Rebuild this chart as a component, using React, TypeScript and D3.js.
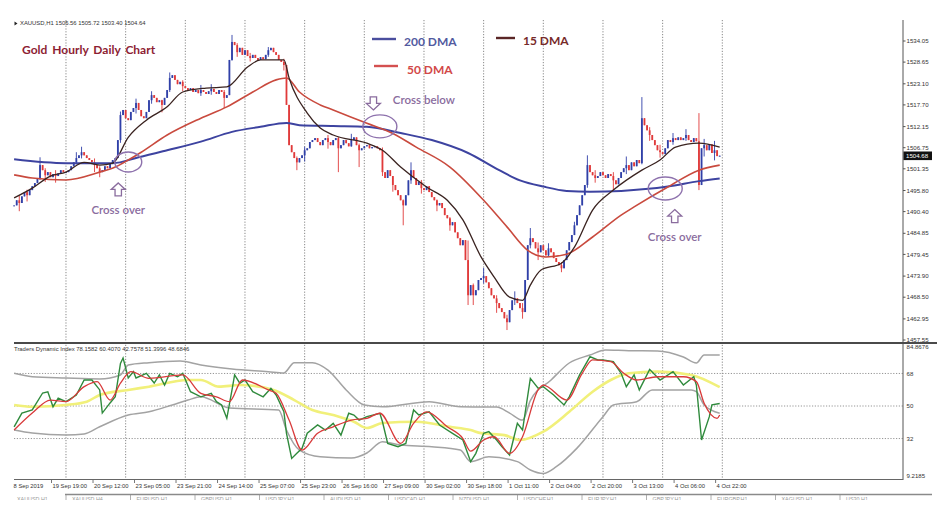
import * as d3 from "d3";
import { useEffect, useRef } from "react";

// XAUUSD H1 closes, bar 0 = first visible bar (19 Sep) .. bar 272 = 4 Oct 22:00
const closes = [
  1492.0, 1493.3, 1492.6, 1494.3, 1495.4, 1494.6, 1495.9, 1496.9, 1497.7, 1499.0,
  1502.3, 1501.0, 1499.7, 1500.5, 1499.2, 1500.0, 1499.5, 1500.2, 1501.0, 1500.5,
  1500.5, 1501.0, 1502.0, 1503.0, 1504.1, 1504.8, 1505.6, 1504.8, 1504.1, 1503.6,
  1503.0, 1502.3, 1501.5, 1500.5, 1501.0, 1502.0, 1501.5, 1502.8, 1503.6, 1504.1,
  1508.7, 1515.1, 1516.4, 1514.3, 1513.8, 1515.9, 1516.9, 1518.2, 1516.4, 1514.8,
  1514.3, 1515.9, 1518.9, 1520.2, 1519.5, 1518.4, 1518.9, 1517.7, 1519.5, 1521.5,
  1524.6, 1525.3, 1524.1, 1523.0, 1523.6, 1522.5, 1522.0, 1521.5, 1522.0, 1521.0,
  1521.5, 1520.7, 1521.5, 1521.0, 1520.5, 1521.2, 1521.8, 1521.0, 1520.5, 1521.5,
  1521.0, 1519.5, 1520.2, 1529.2, 1533.8, 1533.0, 1531.2, 1532.3, 1530.5, 1531.7,
  1530.2, 1529.7, 1530.5, 1529.7, 1529.2, 1529.9, 1529.4, 1530.5, 1531.7, 1532.3,
  1531.2, 1530.5, 1529.2, 1528.7, 1527.9, 1517.7, 1507.4, 1505.6, 1504.1, 1503.0,
  1504.1, 1504.8, 1506.1, 1506.6, 1508.2, 1508.7, 1509.2, 1508.2, 1507.4, 1508.7,
  1509.2, 1508.2, 1507.4, 1508.7, 1509.2, 1506.6, 1507.4, 1508.7, 1507.9, 1507.1,
  1508.7, 1509.4, 1507.4, 1506.1, 1506.6, 1507.1, 1507.4, 1506.6, 1506.9, 1507.1,
  1506.6, 1506.1, 1500.5, 1499.0, 1501.0, 1499.5, 1497.2, 1495.9, 1494.6, 1493.3,
  1492.0, 1494.6, 1498.4, 1501.0, 1499.0, 1497.2, 1498.0, 1496.4, 1495.9, 1496.9,
  1495.4, 1494.1, 1493.3, 1492.0, 1492.6, 1491.3, 1489.5, 1488.7, 1486.9, 1487.7,
  1485.1, 1483.6, 1481.8, 1483.1, 1478.0, 1469.0, 1471.6, 1469.0, 1470.3, 1472.9,
  1473.4, 1473.9, 1472.3, 1470.8, 1469.0, 1468.2, 1467.0, 1465.7, 1464.7, 1463.1,
  1462.1, 1465.2, 1467.7, 1468.2, 1467.0, 1465.7, 1464.7, 1472.9, 1481.8, 1483.6,
  1482.6, 1481.0, 1480.0, 1481.8, 1480.5, 1479.2, 1481.0, 1480.0, 1478.5, 1477.5,
  1476.7, 1475.9, 1478.0, 1480.5, 1482.6, 1484.4, 1486.9, 1489.5, 1492.0, 1494.6,
  1497.2, 1502.3, 1500.5, 1499.7, 1499.0, 1499.5, 1500.5, 1499.7, 1499.0, 1500.0,
  1499.5, 1498.4, 1497.4, 1499.0, 1500.5, 1501.5, 1502.3, 1501.0, 1503.0, 1502.0,
  1503.6, 1502.8, 1514.3, 1512.5, 1511.2, 1510.0, 1508.7, 1507.4, 1506.1, 1505.6,
  1505.1, 1506.6, 1508.7, 1508.2, 1509.2, 1508.7, 1509.4, 1508.7, 1509.2, 1510.0,
  1508.7, 1508.2, 1509.2, 1508.4, 1497.2, 1506.6, 1507.4, 1506.1, 1507.6, 1505.4,
  1506.1, 1504.6, 1504.7,
];

// [bar, high, low] for bars whose shadows stick out of the body
const wicks = [
  [2, 1494.5, 1490.5], [5, 1496.0, 1493.0], [10, 1504.3, 1498.5], [12, 1501.5, 1498.0],
  [16, 1501.0, 1497.8], [24, 1505.6, 1502.5], [26, 1507.0, 1504.0], [31, 1504.0, 1500.5],
  [33, 1502.0, 1499.2], [41, 1516.0, 1508.0], [47, 1519.3, 1515.5], [53, 1521.2, 1518.0],
  [57, 1519.0, 1515.8], [60, 1526.0, 1521.0], [65, 1524.0, 1521.2], [72, 1522.8, 1520.0],
  [76, 1523.0, 1520.3], [81, 1521.5, 1516.9], [84, 1535.6, 1529.0], [86, 1533.5, 1530.0],
  [91, 1531.0, 1528.8], [98, 1532.5, 1530.0], [104, 1529.5, 1526.5], [109, 1504.5, 1501.0],
  [112, 1507.0, 1503.2], [121, 1510.0, 1506.5], [125, 1509.5, 1500.5], [130, 1510.3, 1507.0],
  [133, 1507.8, 1501.8], [142, 1506.8, 1499.5], [146, 1499.0, 1495.5], [150, 1493.5, 1486.9],
  [153, 1503.0, 1497.5], [157, 1498.5, 1495.0], [163, 1493.5, 1490.5], [168, 1489.0, 1485.5],
  [175, 1483.0, 1466.5], [177, 1472.0, 1466.5], [181, 1476.0, 1472.0], [186, 1469.0, 1464.5],
  [190, 1464.0, 1460.1], [193, 1470.0, 1466.5], [196, 1467.0, 1463.0], [199, 1486.2, 1481.0],
  [202, 1482.5, 1478.0], [206, 1482.3, 1478.8], [211, 1477.5, 1474.9], [216, 1487.8, 1485.0],
  [221, 1504.8, 1496.5], [224, 1501.0, 1497.8], [231, 1500.5, 1495.8], [236, 1504.5, 1500.0],
  [242, 1519.7, 1502.5], [245, 1512.0, 1508.5], [249, 1507.5, 1504.2], [254, 1510.5, 1507.5],
  [259, 1511.5, 1508.5], [264, 1515.6, 1495.9], [266, 1509.0, 1504.5], [270, 1508.5, 1503.5],
];

// moving averages, [bar, price]
const ma15 = [
  [0, 1493.9], [7, 1496.4], [14, 1499.5], [20, 1500.5], [27, 1503.0], [33, 1502.3],
  [38, 1502.8], [44, 1509.4], [51, 1513.8], [59, 1517.2], [65, 1521.0], [74, 1522.0],
  [82, 1522.3], [90, 1527.4], [95, 1529.2], [104, 1529.2], [106, 1524.6], [113, 1515.6],
  [118, 1511.8], [123, 1510.0], [136, 1507.9], [142, 1506.1], [149, 1501.8], [159, 1496.7],
  [167, 1493.3], [173, 1488.3], [180, 1478.8], [185, 1473.7], [191, 1468.5], [196, 1467.7],
  [199, 1471.6], [203, 1475.4], [211, 1477.2], [216, 1481.3], [223, 1490.8], [231, 1495.9],
  [242, 1501.0], [249, 1503.6], [255, 1506.9], [264, 1507.9], [272, 1506.9],
];
const ma50 = [
  [0, 1499.8], [7, 1499.0], [20, 1498.5], [33, 1500.5], [39, 1501.8], [44, 1503.6],
  [49, 1505.6], [59, 1510.0], [72, 1514.3], [82, 1517.2], [92, 1521.0], [101, 1524.1],
  [105, 1524.6], [110, 1521.0], [118, 1517.7], [123, 1516.4], [136, 1513.0], [146, 1510.4],
  [155, 1506.9], [168, 1501.8], [181, 1493.3], [190, 1486.5], [198, 1480.5], [205, 1478.8],
  [213, 1479.5], [223, 1483.9], [234, 1489.5], [239, 1491.6], [252, 1496.7], [264, 1501.0],
  [272, 1502.3],
];
const ma200 = [
  [0, 1503.8], [20, 1502.8], [38, 1502.8], [48, 1504.3], [59, 1506.1], [72, 1508.3],
  [84, 1510.8], [95, 1512.1], [105, 1513.1], [110, 1512.5], [123, 1512.3], [136, 1512.1],
  [149, 1510.5], [161, 1508.7], [175, 1505.4], [187, 1501.0], [195, 1498.4], [204, 1496.8],
  [213, 1495.7], [222, 1495.5], [234, 1495.7], [252, 1496.8], [264, 1498.2], [272, 1498.9],
];

// Traders Dynamic Index, [bar, value]
const tdiRsi = [
  [0, 38.5], [3, 46.1], [7, 47.8], [11, 57.2], [13, 57.9], [15, 49.6], [17, 54.4], [20, 52.4],
  [24, 56.1], [27, 64.4], [30, 64.4], [33, 58.9], [34, 46.1], [37, 51.7], [39, 55.1], [41, 73.6],
  [42, 76.6], [44, 65.5], [46, 69.0], [47, 65.5], [51, 68.1], [54, 62.7], [56, 67.2], [58, 61.6],
  [60, 68.1], [63, 66.2], [65, 68.1], [68, 57.9], [72, 55.1], [76, 57.0], [78, 52.4], [80, 50.6],
  [82, 43.2], [84, 58.9], [85, 67.2], [87, 62.6], [89, 64.4], [92, 57.9], [96, 55.1], [99, 59.8],
  [101, 56.1], [104, 46.8], [105, 34.9], [107, 21.0], [109, 23.8], [111, 26.6], [113, 34.9],
  [117, 39.5], [120, 36.7], [123, 40.4], [126, 33.9], [129, 46.0], [131, 45.0], [133, 42.2],
  [136, 44.1], [141, 46.0], [142, 41.3], [144, 29.3], [148, 27.5], [151, 29.3], [154, 47.8],
  [156, 45.0], [160, 46.8], [164, 39.5], [169, 34.9], [173, 31.2], [176, 19.2], [178, 23.8],
  [181, 34.9], [183, 35.8], [186, 31.2], [188, 27.5], [191, 22.9], [194, 40.4], [196, 36.7],
  [199, 65.3], [202, 59.8], [204, 60.7], [208, 56.1], [212, 50.6], [214, 55.1], [218, 67.2],
  [222, 77.3], [225, 75.5], [227, 75.5], [231, 74.5], [234, 68.1], [236, 60.7], [239, 67.2],
  [241, 58.9], [245, 70.3], [249, 64.4], [254, 69.0], [258, 61.6], [262, 66.2], [263, 61.6],
  [265, 31.2], [268, 44.1], [269, 50.6], [272, 51.4],
];
const tdiSignal = [
  [0, 36.7], [7, 46.1], [14, 53.3], [20, 52.4], [27, 60.7], [32, 63.5], [37, 53.3], [41, 62.6],
  [45, 69.0], [52, 65.3], [65, 67.2], [72, 57.0], [78, 55.1], [83, 52.4], [88, 64.4], [98, 58.9],
  [101, 57.0], [106, 42.2], [111, 25.6], [117, 34.9], [123, 38.5], [130, 42.2], [136, 43.2],
  [141, 46.0], [149, 29.3], [154, 40.4], [159, 46.8], [167, 38.5], [173, 32.0], [176, 25.0],
  [181, 31.2], [185, 33.0], [191, 23.8], [196, 33.0], [202, 58.9], [204, 61.6], [213, 53.3],
  [219, 68.1], [223, 75.5], [230, 74.5], [235, 68.1], [240, 64.4], [248, 66.2], [258, 66.2],
  [263, 63.5], [266, 51.5], [271, 43.2], [272, 45.0],
];
const tdiBase = [
  [0, 50.6], [7, 49.6], [20, 50.6], [28, 52.4], [33, 56.1], [44, 58.9], [52, 60.7], [67, 64.4],
  [72, 64.4], [79, 60.7], [87, 61.6], [100, 58.9], [108, 53.3], [115, 47.8], [123, 45.0],
  [131, 41.3], [136, 37.8], [142, 40.6], [155, 41.3], [168, 38.5], [176, 36.7], [180, 35.0],
  [189, 33.9], [195, 31.2], [204, 35.8], [214, 46.8], [223, 57.9], [230, 64.4], [237, 68.1],
  [248, 69.0], [261, 67.2], [272, 60.4],
];
const tdiUpper = [
  [0, 68.1], [7, 66.2], [20, 65.5], [33, 65.0], [41, 67.2], [44, 72.7], [52, 74.0], [64, 74.9],
  [72, 72.7], [84, 70.5], [98, 69.0], [104, 68.3], [108, 74.0], [115, 74.0], [121, 69.9],
  [128, 58.9], [135, 50.6], [142, 49.6], [160, 52.4], [172, 49.6], [186, 49.4], [191, 46.1],
  [196, 42.2], [199, 53.0], [207, 64.4], [214, 73.8], [222, 78.2], [228, 81.0], [237, 80.6],
  [248, 80.5], [258, 77.1], [263, 73.8], [266, 78.2], [272, 78.2],
];
const tdiLower = [
  [0, 36.7], [7, 35.0], [20, 33.9], [27, 34.5], [33, 38.5], [44, 45.0], [52, 46.8], [61, 50.6],
  [67, 53.3], [72, 55.1], [83, 48.9], [102, 47.8], [105, 36.7], [110, 25.6], [118, 21.9],
  [130, 21.2], [136, 24.0], [142, 30.2], [149, 28.4], [161, 27.5], [172, 25.6], [176, 19.2],
  [183, 21.9], [194, 19.2], [199, 14.6], [204, 12.7], [209, 16.4], [217, 26.7], [227, 44.1],
  [231, 50.6], [240, 52.4], [246, 58.9], [261, 58.9], [263, 57.9], [266, 50.6], [272, 46.0],
];

const priceTicks = [
  1534.05, 1528.65, 1523.1, 1517.7, 1512.15, 1506.75, 1501.35, 1495.8,
  1490.4, 1484.85, 1479.45, 1473.9, 1468.5, 1462.95, 1457.55,
];
const lastPrice = 1504.68;
const tdiTicks = [68, 50, 32];
const tdiRange = [9.2185, 84.8676];
const daySeparators = [20, 43, 66, 89, 112, 135, 158, 181, 204, 227, 250, 273];
const timeLabelBars = [0, 15, 31, 47, 63, 79, 95, 111, 127, 143, 159, 175, 191, 207, 223, 239, 255, 271];
const timeLabels = [
  "8 Sep 2019", "19 Sep 19:00", "20 Sep 12:00", "23 Sep 05:00", "23 Sep 21:00", "24 Sep 14:00",
  "25 Sep 07:00", "25 Sep 23:00", "26 Sep 16:00", "27 Sep 09:00", "30 Sep 02:00", "30 Sep 18:00",
  "1 Oct 11:00", "2 Oct 04:00", "2 Oct 20:00", "3 Oct 13:00", "4 Oct 06:00", "4 Oct 22:00",
];
const tabNames = [
  "XAUUSD,H4", "EURUSD,H1", "GBPUSD,H1", "USDJPY,H1", "AUDUSD,H1", "USDCAD,H1", "NZDUSD,H1",
  "USDCHF,H1", "EURJPY,H1", "GBPJPY,H1", "EURGBP,H1", "XAGUSD,H1", "US30,H1",
];
// crossing points: [bar, price]
const crossBars = [44, 141, 251];
const crossPrices = [1503.1, 1512.2, 1496.3];
const crossLabels = ["Cross over", "Cross below", "Cross over"];

export default function App() {
  const ref = useRef<SVGSVGElement>(null);

  useEffect(() => {
    const svg = d3.select(ref.current);
    svg.selectAll("*").remove();

    const x = d3.scaleLinear().domain([0, 273]).range([14.1, 722.3]);
    const y = d3.scaleLinear().domain([1457.55, 1534.05]).range([340, 41]);
    const yT = d3.scaleLinear().domain(tdiRange).range([479.7, 343]);

    const axisFont = "'Liberation Sans', Arial, sans-serif";
    const blue = "#3040a8";
    const red = "#e03a3a";

    svg.append("rect").attr("width", 944).attr("height", 516).attr("fill", "#fff");

    // period separators
    svg.append("g")
      .selectAll("line")
      .data(daySeparators)
      .join("line")
      .attr("x1", d => x(d))
      .attr("x2", d => x(d))
      .attr("y1", 20)
      .attr("y2", 479)
      .attr("stroke", "#7a7a7a")
      .attr("stroke-width", 0.9)
      .attr("stroke-dasharray", "1.2,1.6");

    // TDI levels
    svg.append("g")
      .selectAll("line")
      .data(tdiTicks)
      .join("line")
      .attr("x1", 14)
      .attr("x2", 903)
      .attr("y1", d => yT(d))
      .attr("y2", d => yT(d))
      .attr("stroke", "#8a8a8a")
      .attr("stroke-width", 0.9)
      .attr("stroke-dasharray", "1.2,1.6");

    // frame
    svg.append("line").attr("x1", 903).attr("x2", 903).attr("y1", 20).attr("y2", 480)
      .attr("stroke", "#555").attr("stroke-width", 1);
    svg.append("line").attr("x1", 14).attr("x2", 937).attr("y1", 343).attr("y2", 343)
      .attr("stroke", "#4a4a4a").attr("stroke-width", 2);
    svg.append("line").attr("x1", 14).attr("x2", 903).attr("y1", 479.5).attr("y2", 479.5)
      .attr("stroke", "#666").attr("stroke-width", 1);

    // candles
    const wickMap = new Map(wicks.map(w => [w[0], w]));
    const bars = closes.map((c, i) => {
      const o = i > 0 ? closes[i - 1] : c;
      const w = wickMap.get(i);
      return {
        i, o, c,
        hi: Math.max(o, c, w ? w[1] : c),
        lo: Math.min(o, c, w ? w[2] : c),
        up: c >= o,
      };
    });

    svg.append("g")
      .selectAll("line")
      .data(bars)
      .join("line")
      .attr("x1", d => x(d.i))
      .attr("x2", d => x(d.i))
      .attr("y1", d => y(d.hi))
      .attr("y2", d => y(d.lo))
      .attr("stroke", d => (d.up ? blue : red))
      .attr("stroke-width", 0.9);

    svg.append("g")
      .selectAll("rect")
      .data(bars)
      .join("rect")
      .attr("x", d => x(d.i) - 0.9)
      .attr("width", 1.8)
      .attr("y", d => y(Math.max(d.o, d.c)))
      .attr("height", d => Math.max(1, Math.abs(y(d.o) - y(d.c))))
      .attr("fill", d => (d.up ? blue : red));

    // moving averages
    const maLine = d3.line<number[]>()
      .x(d => x(d[0]))
      .y(d => y(d[1]))
      .curve(d3.curveMonotoneX);

    svg.append("path").attr("d", maLine(ma200)).attr("fill", "none")
      .attr("stroke", "#3d43a0").attr("stroke-width", 2);
    svg.append("path").attr("d", maLine(ma50)).attr("fill", "none")
      .attr("stroke", "#c94a3e").attr("stroke-width", 1.6);
    svg.append("path").attr("d", maLine(ma15)).attr("fill", "none")
      .attr("stroke", "#3a2320").attr("stroke-width", 1.3);

    // TDI
    const tdiLine = (curve: d3.CurveFactory) =>
      d3.line<number[]>().x(d => x(d[0])).y(d => yT(d[1])).curve(curve);

    svg.append("path").attr("d", tdiLine(d3.curveMonotoneX)(tdiBase)).attr("fill", "none")
      .attr("stroke", "#f1f07a").attr("stroke-width", 2.6);
    [tdiUpper, tdiLower].forEach(band => {
      svg.append("path").attr("d", tdiLine(d3.curveMonotoneX)(band)).attr("fill", "none")
        .attr("stroke", "#a3a3a3").attr("stroke-width", 1.5);
    });
    svg.append("path").attr("d", tdiLine(d3.curveLinear)(tdiRsi)).attr("fill", "none")
      .attr("stroke", "#2f8a3c").attr("stroke-width", 1.4);
    svg.append("path").attr("d", tdiLine(d3.curveMonotoneX)(tdiSignal)).attr("fill", "none")
      .attr("stroke", "#d83a3a").attr("stroke-width", 1.3);

    // right price axis
    const pAxis = svg.append("g").attr("font-family", axisFont).attr("font-size", 6.1).attr("fill", "#333");
    pAxis.selectAll("line")
      .data(priceTicks)
      .join("line")
      .attr("x1", 903).attr("x2", 905.5)
      .attr("y1", d => y(d)).attr("y2", d => y(d))
      .attr("stroke", "#555");
    pAxis.selectAll("text")
      .data(priceTicks)
      .join("text")
      .attr("x", 906.5)
      .attr("y", d => y(d) + 2.2)
      .text(d => d.toFixed(2));

    svg.append("rect")
      .attr("x", 903.5).attr("y", y(lastPrice) - 4.3)
      .attr("width", 28.5).attr("height", 8.6)
      .attr("fill", "#111");
    svg.append("text")
      .attr("x", 906).attr("y", y(lastPrice) + 2.2)
      .attr("font-family", axisFont).attr("font-size", 6.1).attr("fill", "#fff")
      .text(lastPrice.toFixed(2));

    // TDI axis
    const tAxis = svg.append("g").attr("font-family", axisFont).attr("font-size", 6.1).attr("fill", "#333");
    tAxis.selectAll("text.lvl")
      .data(tdiTicks)
      .join("text")
      .attr("class", "lvl")
      .attr("x", 906.5)
      .attr("y", d => yT(d) + 2.2)
      .text(d => d);
    tAxis.append("text").attr("x", 906.5).attr("y", yT(tdiRange[1]) + 6.2).text(tdiRange[1].toFixed(4));
    tAxis.append("text").attr("x", 906.5).attr("y", yT(tdiRange[0]) - 1.8).text(tdiRange[0].toFixed(4));

    // time axis
    const xAxis = svg.append("g").attr("font-family", axisFont).attr("font-size", 5.8).attr("fill", "#333");
    xAxis.selectAll("text")
      .data(timeLabels)
      .join("text")
      .attr("x", (_, i) => x(timeLabelBars[i]) - 0.5)
      .attr("y", 488)
      .text(d => d);
    xAxis.selectAll("line")
      .data(timeLabelBars.slice(1))
      .join("line")
      .attr("x1", d => x(d) - 1.5).attr("x2", d => x(d) - 1.5)
      .attr("y1", 480).attr("y2", 483)
      .attr("stroke", "#777");

    // symbol tabs
    const tabs = svg.append("g").attr("font-family", axisFont).attr("font-size", 5.4).attr("fill", "#9a9a9a");
    svg.append("line").attr("x1", 65).attr("x2", 932).attr("y1", 494.5).attr("y2", 494.5)
      .attr("stroke", "#8a8a8a").attr("stroke-width", 1.3);
    tabs.selectAll("line")
      .data(tabNames)
      .join("line")
      .attr("x1", (_, i) => 66 + i * 64.5).attr("x2", (_, i) => 66 + i * 64.5)
      .attr("y1", 494.5).attr("y2", 501)
      .attr("stroke", "#b0b0b0");
    tabs.selectAll("text")
      .data(tabNames)
      .join("text")
      .attr("x", (_, i) => 72 + i * 64.5)
      .attr("y", 500.5)
      .text(d => d);
    tabs.append("text").attr("x", 17).attr("y", 500.5).text("XAUUSD,H1");
    svg.append("rect").attr("x", 0).attr("y", 500).attr("width", 944).attr("height", 16).attr("fill", "#fff");

    // window headers
    svg.append("path").attr("d", "M14.5,21.5 L17.5,23.5 L14.5,25.5 Z").attr("fill", "#222");
    svg.append("text").attr("x", 20).attr("y", 25.3)
      .attr("font-family", axisFont).attr("font-size", 5.9).attr("fill", "#333")
      .text("XAUUSD,H1  1505.56 1505.72 1503.40 1504.64");
    svg.append("text").attr("x", 14).attr("y", 351)
      .attr("font-family", axisFont).attr("font-size", 5.9).attr("fill", "#333")
      .text("Traders Dynamic Index 78.1582 60.4070 42.7578 51.3996 48.6846");

    // title
    svg.append("text").attr("x", 22).attr("y", 53.5)
      .attr("font-family", "Lato, 'Open Sans', sans-serif").attr("font-weight", 700)
      .attr("font-size", 12).attr("word-spacing", 2).attr("fill", "#8d1d33")
      .text("Gold Hourly Daily Chart");

    // legend
    const lg = svg.append("g").attr("font-family", "Lato, 'Open Sans', sans-serif")
      .attr("font-weight", 700).attr("font-size", 12);
    lg.append("line").attr("x1", 372).attr("x2", 396).attr("y1", 39).attr("y2", 39)
      .attr("stroke", "#4a4e9e").attr("stroke-width", 2.4);
    lg.append("text").attr("x", 404).attr("y", 45.5).attr("fill", "#525aa0").text("200 DMA");
    lg.append("line").attr("x1", 374).attr("x2", 398).attr("y1", 66).attr("y2", 66)
      .attr("stroke", "#d45050").attr("stroke-width", 2.4);
    lg.append("text").attr("x", 407).attr("y", 73.5).attr("fill", "#d24848").text("50 DMA");
    lg.append("line").attr("x1", 496).attr("x2", 515).attr("y1", 38).attr("y2", 38)
      .attr("stroke", "#5a2626").attr("stroke-width", 2.4);
    lg.append("text").attr("x", 523).attr("y", 44.5).attr("fill", "#772a2a").text("15 DMA");

    // crossover annotations
    const purple = "#8a6c9e";
    const arrow = (tx: number, ty: number, dir: number) => {
      const p = d3.path();
      p.moveTo(tx, ty);
      p.lineTo(tx + 7, ty + dir * 6.5);
      p.lineTo(tx + 3.2, ty + dir * 6.5);
      p.lineTo(tx + 3.2, ty + dir * 13);
      p.lineTo(tx - 3.2, ty + dir * 13);
      p.lineTo(tx - 3.2, ty + dir * 6.5);
      p.lineTo(tx - 7, ty + dir * 6.5);
      p.closePath();
      return p.toString();
    };
    const notes = svg.append("g").attr("font-family", "Lato, 'Open Sans', sans-serif")
      .attr("font-size", 11.5).attr("font-weight", 600).attr("fill", purple);
    crossBars.forEach((b, i) => {
      const cx = x(b);
      const cy = y(crossPrices[i]);
      const down = crossLabels[i] === "Cross below";
      const rx = i === 0 ? 13.5 : 17;
      const ry = i === 0 ? 10 : 11.5;
      notes.append("ellipse").attr("cx", cx).attr("cy", cy).attr("rx", rx).attr("ry", ry)
        .attr("fill", "none").attr("stroke", "#8e72ad").attr("stroke-width", 1.4);
      if (down) {
        notes.append("path").attr("d", arrow(cx - 6.5, cy - 16.5, -1))
          .attr("fill", "#fff").attr("stroke", purple).attr("stroke-width", 1.3);
        notes.append("text").attr("x", cx + 13).attr("y", cy - 22.5).text(crossLabels[i]);
      } else {
        const dx = i === 0 ? -10 : 9.5;
        notes.append("path").attr("d", arrow(cx + dx, cy + 21, 1))
          .attr("fill", "#fff").attr("stroke", purple).attr("stroke-width", 1.3);
        notes.append("text").attr("x", cx + dx).attr("y", cy + 52.5)
          .attr("text-anchor", "middle").text(crossLabels[i]);
      }
    });
  }, []);

  return (
    <svg
      ref={ref}
      width={944}
      height={516}
      style={{ position: "absolute", left: 0, top: 0 }}
    />
  );
}
